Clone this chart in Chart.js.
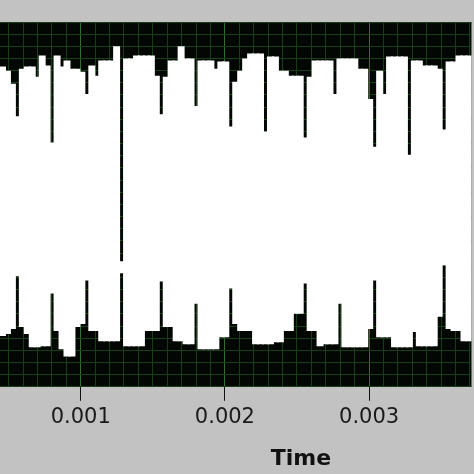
<!DOCTYPE html>
<html>
<head>
<meta charset="utf-8">
<script src="https://cdn.jsdelivr.net/npm/chart.js@4"></script>
<style>
  html, body { margin: 0; padding: 0; background: #c2c2c2; }
  canvas { display: block; }
</style>
</head>
<body>
<canvas id="wave" width="474" height="474"></canvas>
<script>
// envelope of the signal, depth measured downward from the top of the trace (display units)
const upperEdge = [68,72,85,117,70,68,68,78,57,67,143,57,68,62,70,70,73,95,67,77,
  62,62,62,48,270,60,60,57,57,57,57,77,115,78,62,62,48,60,60,107,
  62,62,62,70,63,63,127,83,72,60,55,55,55,132,58,58,72,72,77,77,
  77,138,78,62,62,62,62,95,60,60,60,60,70,70,100,147,72,95,58,58,
  58,58,155,62,62,67,67,67,70,130,63,63,57,57,57];
const lowerEdge = [332,330,325,273,323,330,343,343,342,342,290,327,345,352,352,323,320,277,327,327,
  337,337,337,337,260,342,342,342,342,327,327,327,278,323,323,337,337,340,340,300,
  345,345,345,345,333,333,285,320,327,327,327,340,340,340,340,338,338,327,327,310,
  310,280,327,327,342,340,340,340,300,343,343,343,343,343,325,277,333,333,333,343,
  343,343,343,328,342,342,342,342,313,262,325,327,327,337,337];
const timeMin = 0.00044;
const timeMax = 0.00371;
const gridTimes = [5,6,7,8,9,10,11,12,13,14,15,16,17,18,19,20,21,22,23,24,25,26,27,28,29,30,31,32,33,34,35,36,37].map(k => k / 10000);
const labelTimes = [0.001, 0.002, 0.003];

const bins = upperEdge.map((_, i) => i);
const envelope = upperEdge.map((t, i) => [t, lowerEdge[i]]);

const isMajor = v => labelTimes.some(t => Math.abs(v - t) < 1e-9);
const majorIdx = c => typeof c.index === 'number' && gridTimes[c.index] !== undefined && isMajor(gridTimes[c.index]);

const panelPlugin = {
  id: 'panel',
  beforeDraw(chart) {
    const { ctx, chartArea: a } = chart;
    ctx.save();
    ctx.fillStyle = '#c2c2c2';
    ctx.fillRect(0, 0, chart.width, chart.height);
    ctx.fillStyle = '#030703';
    ctx.fillRect(a.left, a.top, a.right - a.left, a.bottom - a.top);
    ctx.restore();
  },
  afterDraw(chart) {
    const { ctx } = chart;
    ctx.save();
    ctx.fillStyle = '#111';
    ctx.font = 'bold 22px "DejaVu Sans"';
    ctx.textAlign = 'center';
    ctx.textBaseline = 'middle';
    ctx.fillText('Time', 301, 459);
    ctx.restore();
  }
};

new Chart(document.getElementById('wave'), {
  type: 'bar',
  data: {
    labels: bins,
    datasets: [{
      data: envelope,
      backgroundColor: '#ffffff',
      borderWidth: 0,
      inflateAmount: 1,
      barPercentage: 1,
      categoryPercentage: 1
    }]
  },
  options: {
    responsive: false, animation: false, devicePixelRatio: 1,
    layout: { padding: { top: 22, bottom: 40, left: 0, right: 0 } },
    plugins: { legend: { display: false }, tooltip: { enabled: false } },
    scales: {
      x: { display: false },
      x2: {
        type: 'linear', position: 'bottom', min: timeMin, max: timeMax, offset: false,
        afterBuildTicks: axis => { axis.ticks = gridTimes.map(v => ({ value: v })); },
        border: { display: false },
        grid: {
          offset: false,
          color: c => majorIdx(c) ? '#2f6f2f' : '#173f17',
          lineWidth: 1,
          tickColor: c => majorIdx(c) ? '#111111' : 'rgba(0,0,0,0)',
          tickLength: 14
        },
        ticks: {
          autoSkip: false, maxRotation: 0,
          color: '#1a1a1a', font: { family: 'DejaVu Sans', size: 21 }, padding: 4,
          callback: v => isMajor(v) ? v.toFixed(3) : ''
        }
      },
      y: {
        reverse: true, min: 23, max: 383,
        border: { display: false },
        grid: { color: '#173f17', drawTicks: false },
        ticks: { display: false, stepSize: 12 }
      }
    }
  },
  plugins: [panelPlugin]
});
</script>
</body>
</html>
